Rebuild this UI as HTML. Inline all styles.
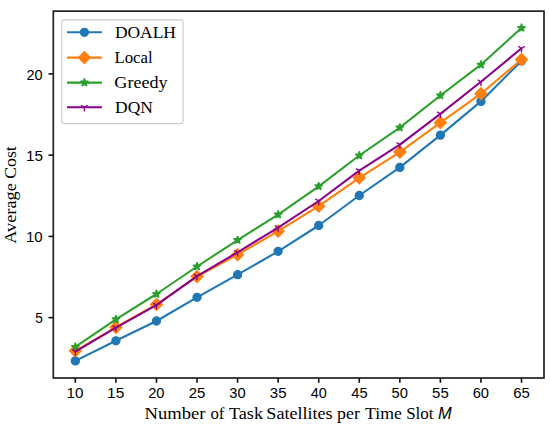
<!DOCTYPE html>
<html><head><meta charset="utf-8"><style>
html,body{margin:0;padding:0;background:#fff;}
svg{display:block;}
.tk{font-family:"Liberation Sans",sans-serif;font-size:14px;fill:#000;}
.lg,.lab{font-family:"Liberation Serif",serif;font-size:16.7px;fill:#000;}
.mi{font-family:"Liberation Sans",sans-serif;font-style:italic;font-size:16.7px;fill:#000;}
</style></head><body>
<svg width="550" height="429" viewBox="0 0 550 429">
<rect x="53.3" y="11.15" width="490.7" height="366.85" fill="none" stroke="#222" stroke-width="1.7"/>
<line x1="75.34" y1="378.0" x2="75.34" y2="382.8" stroke="#111" stroke-width="1.6"/>
<text class="tk" transform="translate(66.50,397.90) scale(1.0877,1)">10</text>
<line x1="115.90" y1="378.0" x2="115.90" y2="382.8" stroke="#111" stroke-width="1.6"/>
<text class="tk" transform="translate(107.04,397.90) scale(1.1071,1)">15</text>
<line x1="156.46" y1="378.0" x2="156.46" y2="382.8" stroke="#111" stroke-width="1.6"/>
<text class="tk" transform="translate(148.19,397.90) scale(1.0508,1)">20</text>
<line x1="197.03" y1="378.0" x2="197.03" y2="382.8" stroke="#111" stroke-width="1.6"/>
<text class="tk" transform="translate(188.74,397.90) scale(1.0690,1)">25</text>
<line x1="237.59" y1="378.0" x2="237.59" y2="382.8" stroke="#111" stroke-width="1.6"/>
<text class="tk" transform="translate(229.31,397.90) scale(1.0508,1)">30</text>
<line x1="278.15" y1="378.0" x2="278.15" y2="382.8" stroke="#111" stroke-width="1.6"/>
<text class="tk" transform="translate(269.87,397.90) scale(1.0690,1)">35</text>
<line x1="318.71" y1="378.0" x2="318.71" y2="382.8" stroke="#111" stroke-width="1.6"/>
<text class="tk" transform="translate(310.70,397.90) scale(1.0333,1)">40</text>
<line x1="359.27" y1="378.0" x2="359.27" y2="382.8" stroke="#111" stroke-width="1.6"/>
<text class="tk" transform="translate(351.26,397.90) scale(1.0508,1)">45</text>
<line x1="399.84" y1="378.0" x2="399.84" y2="382.8" stroke="#111" stroke-width="1.6"/>
<text class="tk" transform="translate(391.56,397.90) scale(1.0508,1)">50</text>
<line x1="440.40" y1="378.0" x2="440.40" y2="382.8" stroke="#111" stroke-width="1.6"/>
<text class="tk" transform="translate(432.11,397.90) scale(1.0690,1)">55</text>
<line x1="480.96" y1="378.0" x2="480.96" y2="382.8" stroke="#111" stroke-width="1.6"/>
<text class="tk" transform="translate(472.68,397.90) scale(1.0508,1)">60</text>
<line x1="521.52" y1="378.0" x2="521.52" y2="382.8" stroke="#111" stroke-width="1.6"/>
<text class="tk" transform="translate(513.24,397.90) scale(1.0690,1)">65</text>
<line x1="48.5" y1="317.65" x2="53.3" y2="317.65" stroke="#111" stroke-width="1.6"/>
<text class="tk" transform="translate(35.21,323.45) scale(0.9778,1)">5</text>
<line x1="48.5" y1="236.40" x2="53.3" y2="236.40" stroke="#111" stroke-width="1.6"/>
<text class="tk" transform="translate(25.93,242.20) scale(1.0737,1)">10</text>
<line x1="48.5" y1="155.15" x2="53.3" y2="155.15" stroke="#111" stroke-width="1.6"/>
<text class="tk" transform="translate(25.91,160.95) scale(1.0929,1)">15</text>
<line x1="48.5" y1="73.90" x2="53.3" y2="73.90" stroke="#111" stroke-width="1.6"/>
<text class="tk" transform="translate(26.48,79.70) scale(1.0373,1)">20</text>
<polyline points="75.34,360.90 115.90,340.80 156.46,321.00 197.03,297.30 237.59,274.70 278.15,251.30 318.71,225.50 359.27,195.50 399.84,167.40 440.40,135.10 480.96,101.40 521.52,60.90" fill="none" stroke="#1f77b4" stroke-width="2.08" stroke-linejoin="round" stroke-linecap="butt"/><circle cx="75.34" cy="360.90" r="3.95" fill="#1f77b4" stroke="#1f77b4" stroke-width="1.39"/><circle cx="115.90" cy="340.80" r="3.95" fill="#1f77b4" stroke="#1f77b4" stroke-width="1.39"/><circle cx="156.46" cy="321.00" r="3.95" fill="#1f77b4" stroke="#1f77b4" stroke-width="1.39"/><circle cx="197.03" cy="297.30" r="3.95" fill="#1f77b4" stroke="#1f77b4" stroke-width="1.39"/><circle cx="237.59" cy="274.70" r="3.95" fill="#1f77b4" stroke="#1f77b4" stroke-width="1.39"/><circle cx="278.15" cy="251.30" r="3.95" fill="#1f77b4" stroke="#1f77b4" stroke-width="1.39"/><circle cx="318.71" cy="225.50" r="3.95" fill="#1f77b4" stroke="#1f77b4" stroke-width="1.39"/><circle cx="359.27" cy="195.50" r="3.95" fill="#1f77b4" stroke="#1f77b4" stroke-width="1.39"/><circle cx="399.84" cy="167.40" r="3.95" fill="#1f77b4" stroke="#1f77b4" stroke-width="1.39"/><circle cx="440.40" cy="135.10" r="3.95" fill="#1f77b4" stroke="#1f77b4" stroke-width="1.39"/><circle cx="480.96" cy="101.40" r="3.95" fill="#1f77b4" stroke="#1f77b4" stroke-width="1.39"/><circle cx="521.52" cy="60.90" r="3.95" fill="#1f77b4" stroke="#1f77b4" stroke-width="1.39"/>
<polyline points="75.34,350.80 115.90,327.30 156.46,304.50 197.03,276.60 237.59,254.70 278.15,231.20 318.71,206.20 359.27,177.80 399.84,152.10 440.40,122.70 480.96,93.70 521.52,59.50" fill="none" stroke="#ff7f0e" stroke-width="2.08" stroke-linejoin="round" stroke-linecap="butt"/><polygon points="75.34,344.91 81.23,350.80 75.34,356.69 69.45,350.80" fill="#ff7f0e" stroke="#ff7f0e" stroke-width="1.39" stroke-linejoin="miter"/><polygon points="115.90,321.41 121.79,327.30 115.90,333.19 110.01,327.30" fill="#ff7f0e" stroke="#ff7f0e" stroke-width="1.39" stroke-linejoin="miter"/><polygon points="156.46,298.61 162.35,304.50 156.46,310.39 150.57,304.50" fill="#ff7f0e" stroke="#ff7f0e" stroke-width="1.39" stroke-linejoin="miter"/><polygon points="197.03,270.71 202.92,276.60 197.03,282.49 191.14,276.60" fill="#ff7f0e" stroke="#ff7f0e" stroke-width="1.39" stroke-linejoin="miter"/><polygon points="237.59,248.81 243.48,254.70 237.59,260.59 231.70,254.70" fill="#ff7f0e" stroke="#ff7f0e" stroke-width="1.39" stroke-linejoin="miter"/><polygon points="278.15,225.31 284.04,231.20 278.15,237.09 272.26,231.20" fill="#ff7f0e" stroke="#ff7f0e" stroke-width="1.39" stroke-linejoin="miter"/><polygon points="318.71,200.31 324.60,206.20 318.71,212.09 312.82,206.20" fill="#ff7f0e" stroke="#ff7f0e" stroke-width="1.39" stroke-linejoin="miter"/><polygon points="359.27,171.91 365.16,177.80 359.27,183.69 353.38,177.80" fill="#ff7f0e" stroke="#ff7f0e" stroke-width="1.39" stroke-linejoin="miter"/><polygon points="399.84,146.21 405.73,152.10 399.84,157.99 393.95,152.10" fill="#ff7f0e" stroke="#ff7f0e" stroke-width="1.39" stroke-linejoin="miter"/><polygon points="440.40,116.81 446.29,122.70 440.40,128.59 434.51,122.70" fill="#ff7f0e" stroke="#ff7f0e" stroke-width="1.39" stroke-linejoin="miter"/><polygon points="480.96,87.81 486.85,93.70 480.96,99.59 475.07,93.70" fill="#ff7f0e" stroke="#ff7f0e" stroke-width="1.39" stroke-linejoin="miter"/><polygon points="521.52,53.61 527.41,59.50 521.52,65.39 515.63,59.50" fill="#ff7f0e" stroke="#ff7f0e" stroke-width="1.39" stroke-linejoin="miter"/>
<polyline points="75.34,346.90 115.90,319.30 156.46,294.00 197.03,266.50 237.59,240.10 278.15,214.60 318.71,186.30 359.27,155.50 399.84,127.60 440.40,95.50 480.96,64.70 521.52,27.90" fill="none" stroke="#2ca02c" stroke-width="2.08" stroke-linejoin="round" stroke-linecap="butt"/><polygon points="75.34,342.73 74.40,345.61 71.38,345.61 73.83,347.39 72.89,350.27 75.34,348.49 77.79,350.27 76.85,347.39 79.30,345.61 76.28,345.61" fill="#2ca02c" stroke="#2ca02c" stroke-width="1.39" stroke-linejoin="bevel"/><polygon points="115.90,315.13 114.97,318.01 111.94,318.01 114.39,319.79 113.45,322.67 115.90,320.89 118.35,322.67 117.42,319.79 119.86,318.01 116.84,318.01" fill="#2ca02c" stroke="#2ca02c" stroke-width="1.39" stroke-linejoin="bevel"/><polygon points="156.46,289.83 155.53,292.71 152.50,292.71 154.95,294.49 154.02,297.37 156.46,295.59 158.91,297.37 157.98,294.49 160.43,292.71 157.40,292.71" fill="#2ca02c" stroke="#2ca02c" stroke-width="1.39" stroke-linejoin="bevel"/><polygon points="197.03,262.33 196.09,265.21 193.06,265.21 195.51,266.99 194.58,269.87 197.03,268.09 199.47,269.87 198.54,266.99 200.99,265.21 197.96,265.21" fill="#2ca02c" stroke="#2ca02c" stroke-width="1.39" stroke-linejoin="bevel"/><polygon points="237.59,235.94 236.65,238.81 233.63,238.81 236.07,240.59 235.14,243.47 237.59,241.69 240.04,243.47 239.10,240.59 241.55,238.81 238.52,238.81" fill="#2ca02c" stroke="#2ca02c" stroke-width="1.39" stroke-linejoin="bevel"/><polygon points="278.15,210.44 277.21,213.31 274.19,213.31 276.64,215.09 275.70,217.97 278.15,216.19 280.60,217.97 279.66,215.09 282.11,213.31 279.09,213.31" fill="#2ca02c" stroke="#2ca02c" stroke-width="1.39" stroke-linejoin="bevel"/><polygon points="318.71,182.14 317.78,185.01 314.75,185.01 317.20,186.79 316.26,189.67 318.71,187.89 321.16,189.67 320.23,186.79 322.67,185.01 319.65,185.01" fill="#2ca02c" stroke="#2ca02c" stroke-width="1.39" stroke-linejoin="bevel"/><polygon points="359.27,151.34 358.34,154.21 355.31,154.21 357.76,155.99 356.83,158.87 359.27,157.09 361.72,158.87 360.79,155.99 363.24,154.21 360.21,154.21" fill="#2ca02c" stroke="#2ca02c" stroke-width="1.39" stroke-linejoin="bevel"/><polygon points="399.84,123.43 398.90,126.31 395.87,126.31 398.32,128.09 397.39,130.97 399.84,129.19 402.28,130.97 401.35,128.09 403.80,126.31 400.77,126.31" fill="#2ca02c" stroke="#2ca02c" stroke-width="1.39" stroke-linejoin="bevel"/><polygon points="440.40,91.33 439.46,94.21 436.44,94.21 438.88,95.99 437.95,98.87 440.40,97.09 442.85,98.87 441.91,95.99 444.36,94.21 441.33,94.21" fill="#2ca02c" stroke="#2ca02c" stroke-width="1.39" stroke-linejoin="bevel"/><polygon points="480.96,60.54 480.02,63.41 477.00,63.41 479.45,65.19 478.51,68.07 480.96,66.29 483.41,68.07 482.47,65.19 484.92,63.41 481.90,63.41" fill="#2ca02c" stroke="#2ca02c" stroke-width="1.39" stroke-linejoin="bevel"/><polygon points="521.52,23.73 520.59,26.61 517.56,26.61 520.01,28.39 519.07,31.27 521.52,29.49 523.97,31.27 523.04,28.39 525.48,26.61 522.46,26.61" fill="#2ca02c" stroke="#2ca02c" stroke-width="1.39" stroke-linejoin="bevel"/>
<polyline points="75.34,351.60 115.90,327.70 156.46,305.20 197.03,276.20 237.59,252.30 278.15,227.60 318.71,201.00 359.27,170.70 399.84,144.60 440.40,113.90 480.96,81.80 521.52,48.30" fill="none" stroke="#8b008b" stroke-width="2.08" stroke-linejoin="round" stroke-linecap="butt"/><path d="M75.34,351.60L75.34,355.77M75.34,351.60L78.67,349.52M75.34,351.60L72.01,349.52" stroke="#8b008b" stroke-width="1.39" fill="none"/><path d="M115.90,327.70L115.90,331.87M115.90,327.70L119.23,325.62M115.90,327.70L112.57,325.62" stroke="#8b008b" stroke-width="1.39" fill="none"/><path d="M156.46,305.20L156.46,309.37M156.46,305.20L159.80,303.12M156.46,305.20L153.13,303.12" stroke="#8b008b" stroke-width="1.39" fill="none"/><path d="M197.03,276.20L197.03,280.37M197.03,276.20L200.36,274.12M197.03,276.20L193.69,274.12" stroke="#8b008b" stroke-width="1.39" fill="none"/><path d="M237.59,252.30L237.59,256.47M237.59,252.30L240.92,250.22M237.59,252.30L234.26,250.22" stroke="#8b008b" stroke-width="1.39" fill="none"/><path d="M278.15,227.60L278.15,231.76M278.15,227.60L281.48,225.52M278.15,227.60L274.82,225.52" stroke="#8b008b" stroke-width="1.39" fill="none"/><path d="M318.71,201.00L318.71,205.16M318.71,201.00L322.04,198.92M318.71,201.00L315.38,198.92" stroke="#8b008b" stroke-width="1.39" fill="none"/><path d="M359.27,170.70L359.27,174.86M359.27,170.70L362.61,168.62M359.27,170.70L355.94,168.62" stroke="#8b008b" stroke-width="1.39" fill="none"/><path d="M399.84,144.60L399.84,148.76M399.84,144.60L403.17,142.52M399.84,144.60L396.50,142.52" stroke="#8b008b" stroke-width="1.39" fill="none"/><path d="M440.40,113.90L440.40,118.07M440.40,113.90L443.73,111.82M440.40,113.90L437.07,111.82" stroke="#8b008b" stroke-width="1.39" fill="none"/><path d="M480.96,81.80L480.96,85.97M480.96,81.80L484.29,79.72M480.96,81.80L477.63,79.72" stroke="#8b008b" stroke-width="1.39" fill="none"/><path d="M521.52,48.30L521.52,52.46M521.52,48.30L524.85,46.22M521.52,48.30L518.19,46.22" stroke="#8b008b" stroke-width="1.39" fill="none"/>
<rect x="61.8" y="19.9" width="121.3" height="103.69999999999999" rx="2.8" fill="#fff" fill-opacity="0.8" stroke="#cccccc" stroke-width="1.1"/>
<line x1="67" y1="32.30" x2="101.9" y2="32.30" stroke="#1f77b4" stroke-width="2.08"/>
<circle cx="84.40" cy="32.30" r="3.95" fill="#1f77b4" stroke="#1f77b4" stroke-width="1.39"/>
<text class="lg" transform="translate(114.88,37.70) scale(1.0452,1)">DOALH</text>
<line x1="67" y1="57.60" x2="101.9" y2="57.60" stroke="#ff7f0e" stroke-width="2.08"/>
<polygon points="84.40,51.71 90.29,57.60 84.40,63.49 78.51,57.60" fill="#ff7f0e" stroke="#ff7f0e" stroke-width="1.39" stroke-linejoin="miter"/>
<text class="lg" transform="translate(114.40,63.00) scale(1.0094,1)">Local</text>
<line x1="67" y1="82.60" x2="101.9" y2="82.60" stroke="#2ca02c" stroke-width="2.08"/>
<polygon points="84.40,78.43 83.46,81.31 80.44,81.31 82.89,83.09 81.95,85.97 84.40,84.19 86.85,85.97 85.91,83.09 88.36,81.31 85.34,81.31" fill="#2ca02c" stroke="#2ca02c" stroke-width="1.39" stroke-linejoin="bevel"/>
<text class="lg" transform="translate(114.36,88.00) scale(1.0851,1)">Greedy</text>
<line x1="67" y1="107.30" x2="101.9" y2="107.30" stroke="#8b008b" stroke-width="2.08"/>
<path d="M84.40,107.30L84.40,111.47M84.40,107.30L87.73,105.22M84.40,107.30L81.07,105.22" stroke="#8b008b" stroke-width="1.39" fill="none"/>
<text class="lg" transform="translate(114.98,112.70) scale(1.0496,1)">DQN</text>
<text class="lab" transform="translate(144.54,418.70) scale(1.1134,1)">Number</text>
<text class="lab" transform="translate(210.40,418.70) scale(1.0074,1)">of</text>
<text class="lab" transform="translate(228.93,418.70) scale(1.0903,1)">Task</text>
<text class="lab" transform="translate(266.32,418.70) scale(1.0845,1)">Satellites</text>
<text class="lab" transform="translate(337.03,418.70) scale(1.0714,1)">per</text>
<text class="lab" transform="translate(365.03,418.70) scale(1.0618,1)">Time</text>
<text class="lab" transform="translate(406.18,418.70) scale(1.0175,1)">Slot</text>
<text class="mi" transform="translate(438.11,418.60) scale(0.9852,1)">M</text>
<text class="lab" transform="translate(15.90,243.80) rotate(-90) scale(1.0977,1)">Average</text>
<text class="lab" transform="translate(15.90,178.73) rotate(-90) scale(1.0633,1)">Cost</text>
</svg>
</body></html>
